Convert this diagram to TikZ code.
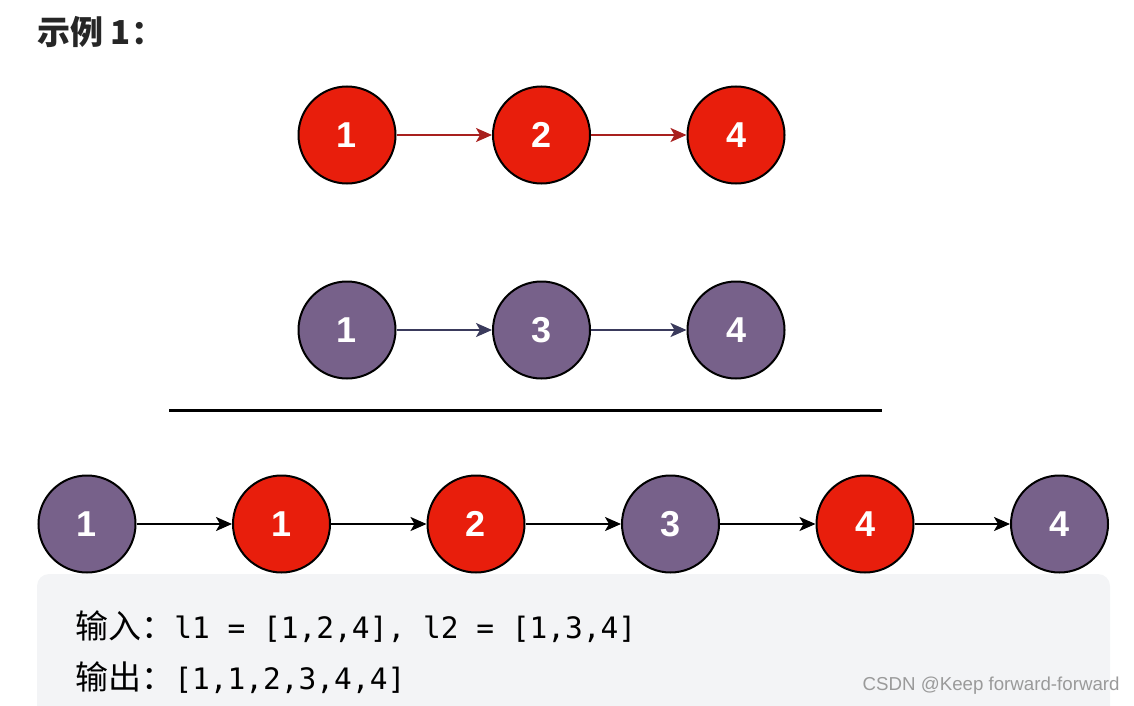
\documentclass[tikz,border=0pt]{standalone}
\usepackage{fontspec}
\newfontfamily\cjk{Noto Sans CJK SC}
\newfontfamily\numfont{Liberation Sans}
\newfontfamily\codefont{DejaVu Sans Mono}
\usetikzlibrary{arrows.meta,positioning}

\definecolor{listred}{HTML}{E81E0C}
\definecolor{listpurple}{HTML}{77618A}
\definecolor{arrowred}{HTML}{A8201E}
\definecolor{arrowslate}{HTML}{3A3A5C}
\definecolor{codebg}{HTML}{F3F4F6}
\definecolor{markgray}{HTML}{9A9A9A}

\tikzset{
  listnode/.style={circle,draw=black,line width=1pt,minimum size=48.5pt,inner sep=0pt,
    font=\numfont\bfseries\fontsize{18}{18}\selectfont,text=white},
  rednode/.style={listnode,fill=listred},
  purplenode/.style={listnode,fill=listpurple},
  link/.style={-{Stealth[length=8pt,width=7pt,inset=2pt]},line width=1pt}
}

\begin{document}
\begin{tikzpicture}[x=0.5pt,y=-0.5pt,node distance=47.75pt]
\useasboundingbox (0,0) rectangle (1134,706);

% title
\node[anchor=west,inner sep=0pt,font=\cjk\bfseries\fontsize{16.5}{16.5}\selectfont,text=black!85] (title) at (37,32) {示例 1：};

% list l1
\node[rednode] (a1) at (347,135) {1};
\node[rednode,right=of a1] (a2) {2};
\node[rednode,right=of a2] (a3) {4};
\draw[link,arrowred] (a1) -- (a2);
\draw[link,arrowred] (a2) -- (a3);

% list l2
\node[purplenode] (b1) at (347,330) {1};
\node[purplenode,right=of b1] (b2) {3};
\node[purplenode,right=of b2] (b3) {4};
\draw[link,arrowslate] (b1) -- (b2);
\draw[link,arrowslate] (b2) -- (b3);

% separator
\draw[line width=1.5pt] (169,410) -- (882,410);

% code block
\fill[codebg,rounded corners=6pt] (37,574) rectangle (1110,730);

% merged list
\node[purplenode] (m1) at (87,524) {1};
\node[rednode,right=of m1] (m2) {1};
\node[rednode,right=of m2] (m3) {2};
\node[purplenode,right=of m3] (m4) {3};
\node[rednode,right=of m4] (m5) {4};
\node[purplenode,right=of m5] (m6) {4};
\draw[link] (m1) -- (m2);
\draw[link] (m2) -- (m3);
\draw[link] (m3) -- (m4);
\draw[link] (m4) -- (m5);
\draw[link] (m5) -- (m6);

% example text
\node[anchor=west,inner sep=0pt] (input) at (75,627)
  {{\cjk\fontsize{16.5}{16.5}\selectfont 输入：}{\codefont\fontsize{14.75}{14.75}\selectfont l1 = [1,2,4], l2 = [1,3,4]}};
\node[anchor=west,inner sep=0pt] (output) at (75,678)
  {{\cjk\fontsize{16.5}{16.5}\selectfont 输出：}{\codefont\fontsize{14.75}{14.75}\selectfont [1,1,2,3,4,4]}};

% watermark
\node[anchor=east,inner sep=0pt,font=\numfont\fontsize{9.35}{9.35}\selectfont,text=markgray] (mark) at (1120,686)
  {CSDN @Keep forward-forward};
\end{tikzpicture}
\end{document}
